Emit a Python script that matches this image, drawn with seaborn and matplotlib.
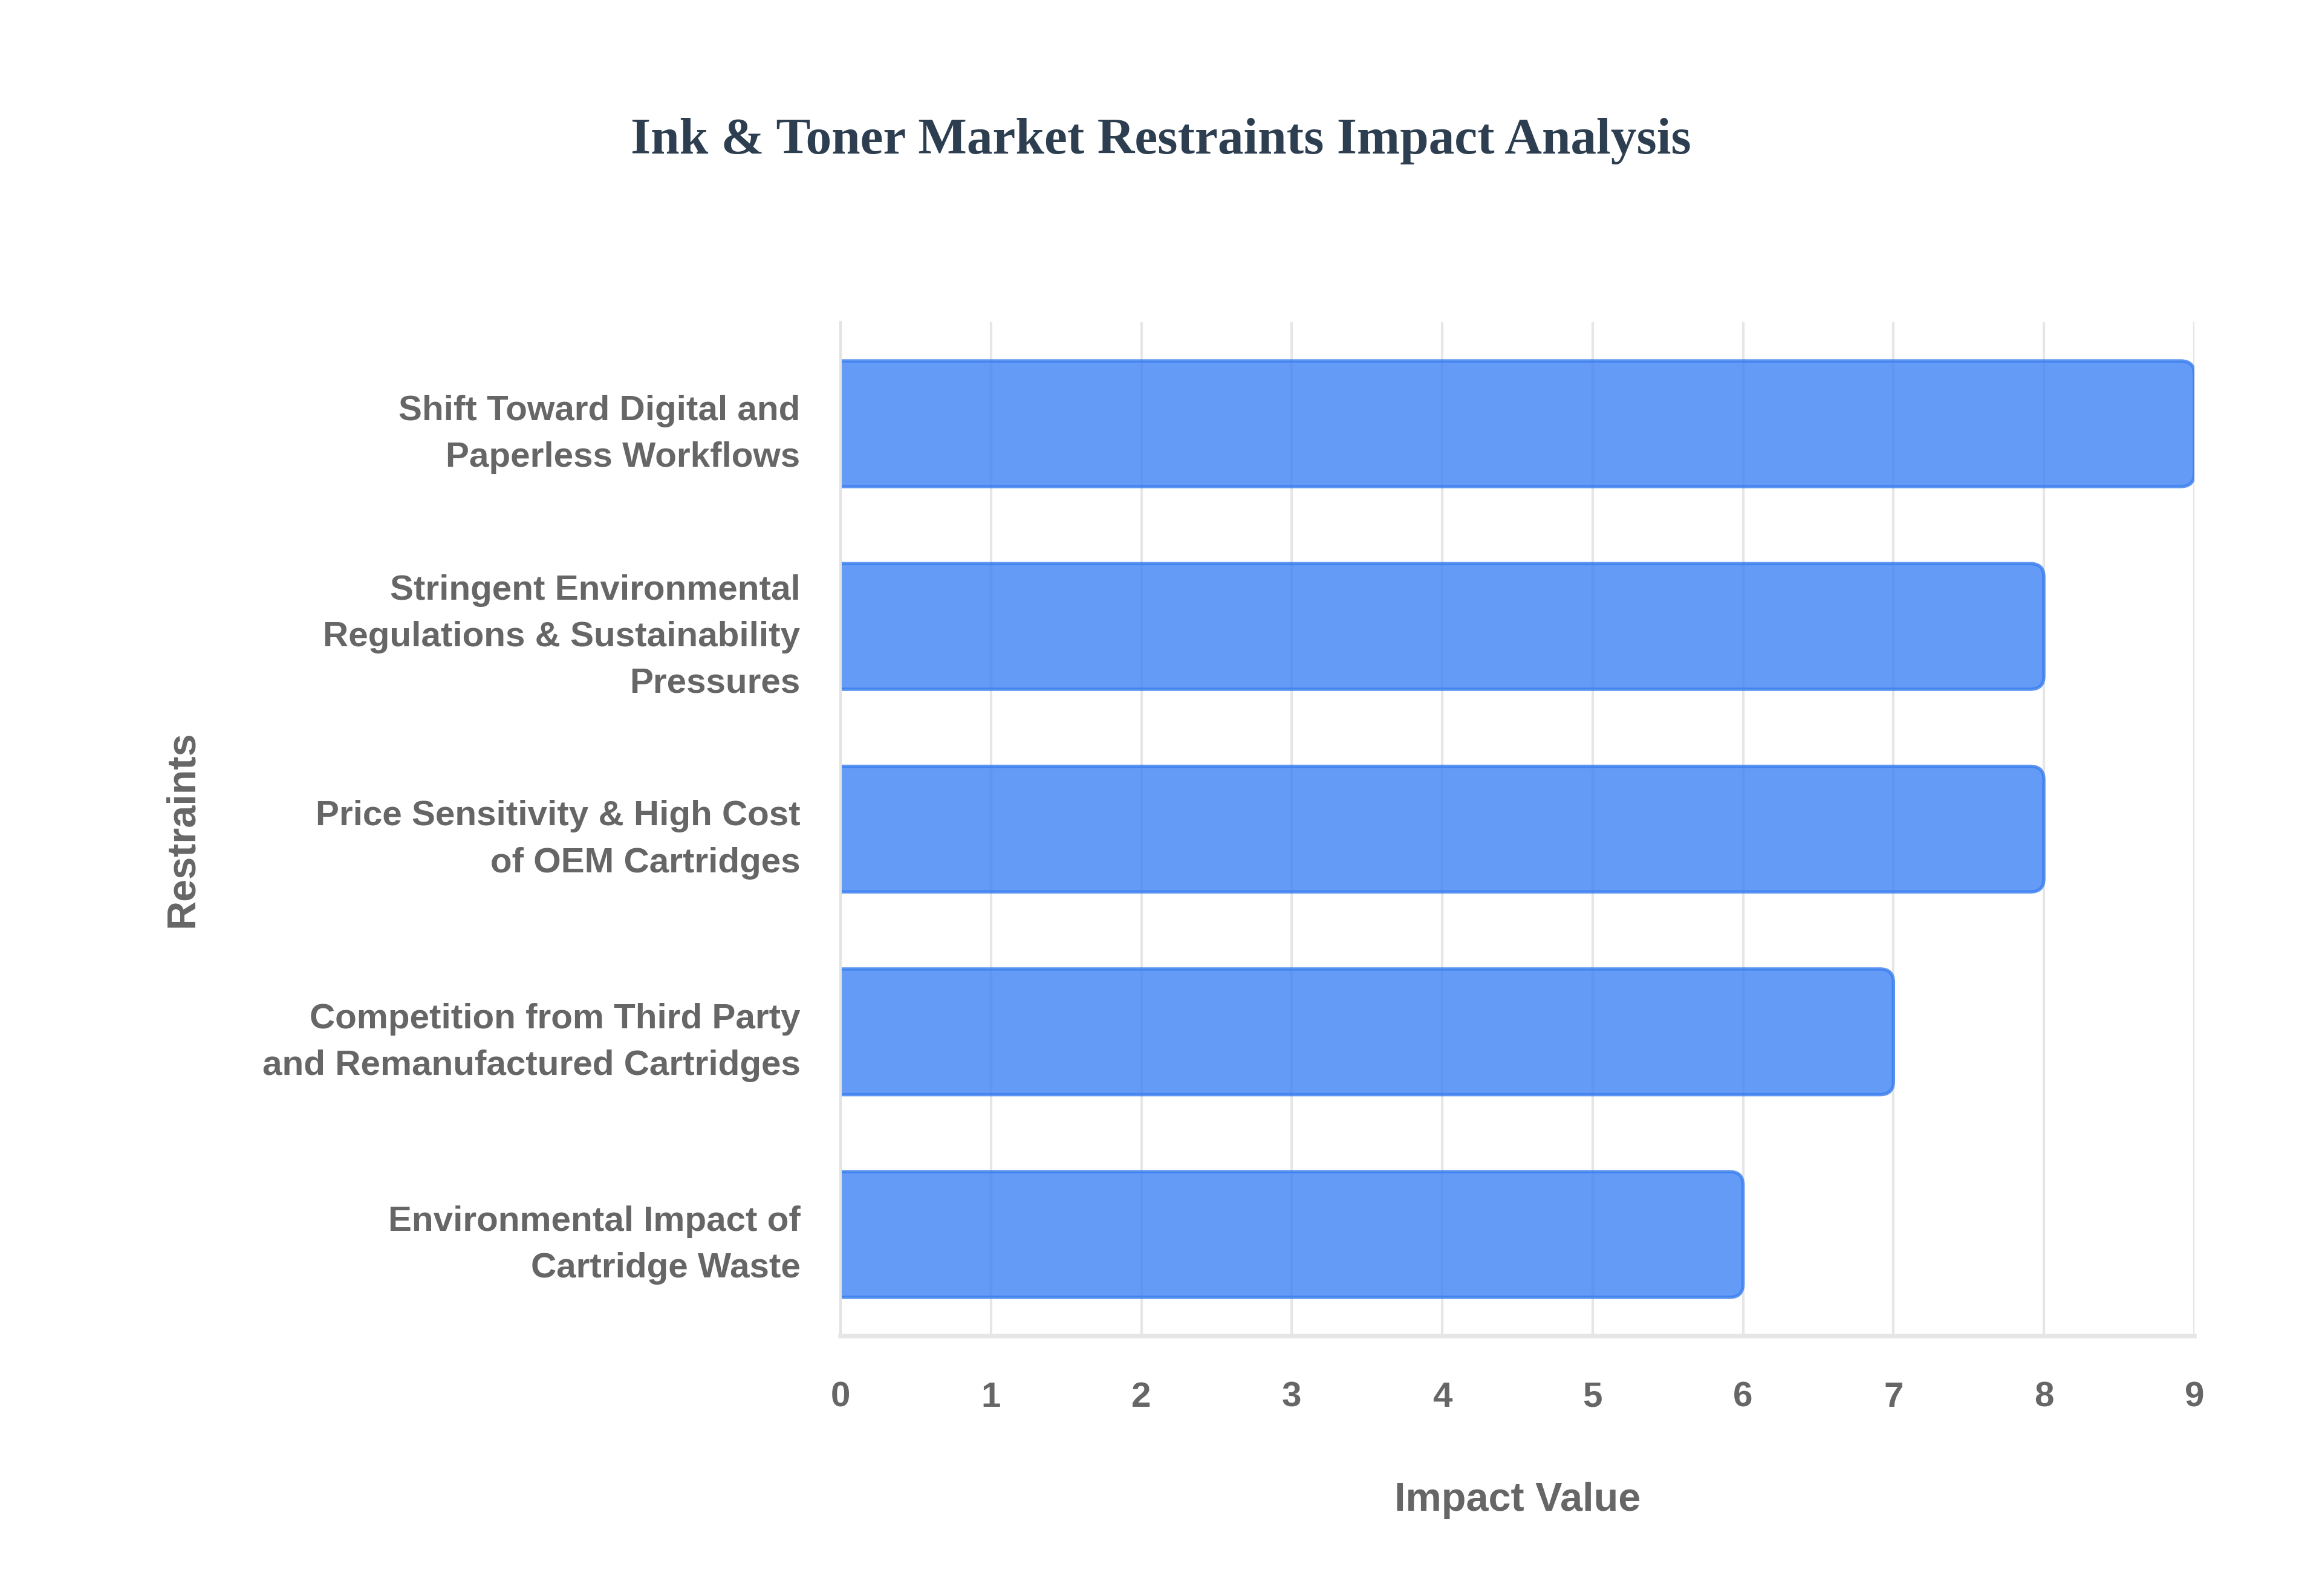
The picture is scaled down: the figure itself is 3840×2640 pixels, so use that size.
import matplotlib
matplotlib.use("Agg")
import matplotlib.pyplot as plt
from matplotlib.patches import FancyBboxPatch
import seaborn as sns
import pandas as pd

# chart data
restraints = [
    "Shift Toward Digital and\nPaperless Workflows",
    "Stringent Environmental\nRegulations & Sustainability\nPressures",
    "Price Sensitivity & High Cost\nof OEM Cartridges",
    "Competition from Third Party\nand Remanufactured Cartridges",
    "Environmental Impact of\nCartridge Waste",
]
impact_values = [9, 8, 8, 7, 6]
x_ticks = list(range(0, 10))

df = pd.DataFrame({"Restraint": restraints, "Impact": impact_values})

sns.set_theme(style="white")
plt.rcParams["font.family"] = ["Liberation Sans", "DejaVu Sans"]

fig = plt.figure(figsize=(12.8, 8.8), dpi=300)
ax = fig.add_axes([0.362, 0.163, 0.583, 0.635])

sns.barplot(
    data=df, x="Impact", y="Restraint", orient="h",
    color="#4285f4", saturation=1, alpha=0.82, edgecolor="#3b7fee",
    linewidth=1.3, width=0.62, ax=ax,
)

# swap the plain rectangles for ones with rounded right ends
# (left end pushed past x=0 so the axes clip keeps it square)
for bar in list(ax.patches):
    x0, y0 = bar.get_x(), bar.get_y()
    w, h = bar.get_width(), bar.get_height()
    rounded = FancyBboxPatch(
        (x0 - 0.2, y0), w + 0.2, h,
        boxstyle="round,pad=0,rounding_size=0.09", mutation_aspect=0.72,
        facecolor=bar.get_facecolor(), edgecolor=bar.get_edgecolor(),
        linewidth=bar.get_linewidth(), zorder=bar.get_zorder(),
    )
    bar.remove()
    ax.add_patch(rounded)

ax.set_xlim(0, 9)
ax.set_ylim(4.5, -0.5)
ax.set_xticks(x_ticks)
ax.set_xticklabels([str(t) for t in x_ticks])

ax.grid(axis="x", color="#e6e6e6", linewidth=1.0, zorder=0)
ax.set_axisbelow(True)

for side in ["top", "right"]:
    ax.spines[side].set_visible(False)
ax.spines["left"].set_color("#e3e3e3")
ax.spines["left"].set_linewidth(1.0)
ax.spines["bottom"].set_color("#e6e6e6")
ax.spines["bottom"].set_linewidth(1.8)

ax.tick_params(axis="x", length=9, width=0.8, color="#e6e6e6", pad=9,
               labelsize=14, labelcolor="#666666")
ax.tick_params(axis="y", length=0, pad=16, labelsize=14, labelcolor="#666666")
for lbl in ax.get_xticklabels() + ax.get_yticklabels():
    lbl.set_fontweight("bold")
for lbl in ax.get_yticklabels():
    lbl.set_multialignment("right")
    lbl.set_linespacing(1.55)

ax.set_xlabel("Impact Value", fontsize=16, fontweight="bold", color="#666666", labelpad=27)
ax.set_ylabel("Restraints", fontsize=16, fontweight="bold", color="#666666")
ax.yaxis.set_label_coords(-0.472, 0.5)

fig.suptitle("Ink & Toner Market Restraints Impact Analysis", y=0.926,
             fontsize=20.5, fontweight="bold", color="#2c3e50",
             family=["Liberation Serif", "DejaVu Serif"])

fig.savefig("out.png", dpi=300, facecolor="white")
